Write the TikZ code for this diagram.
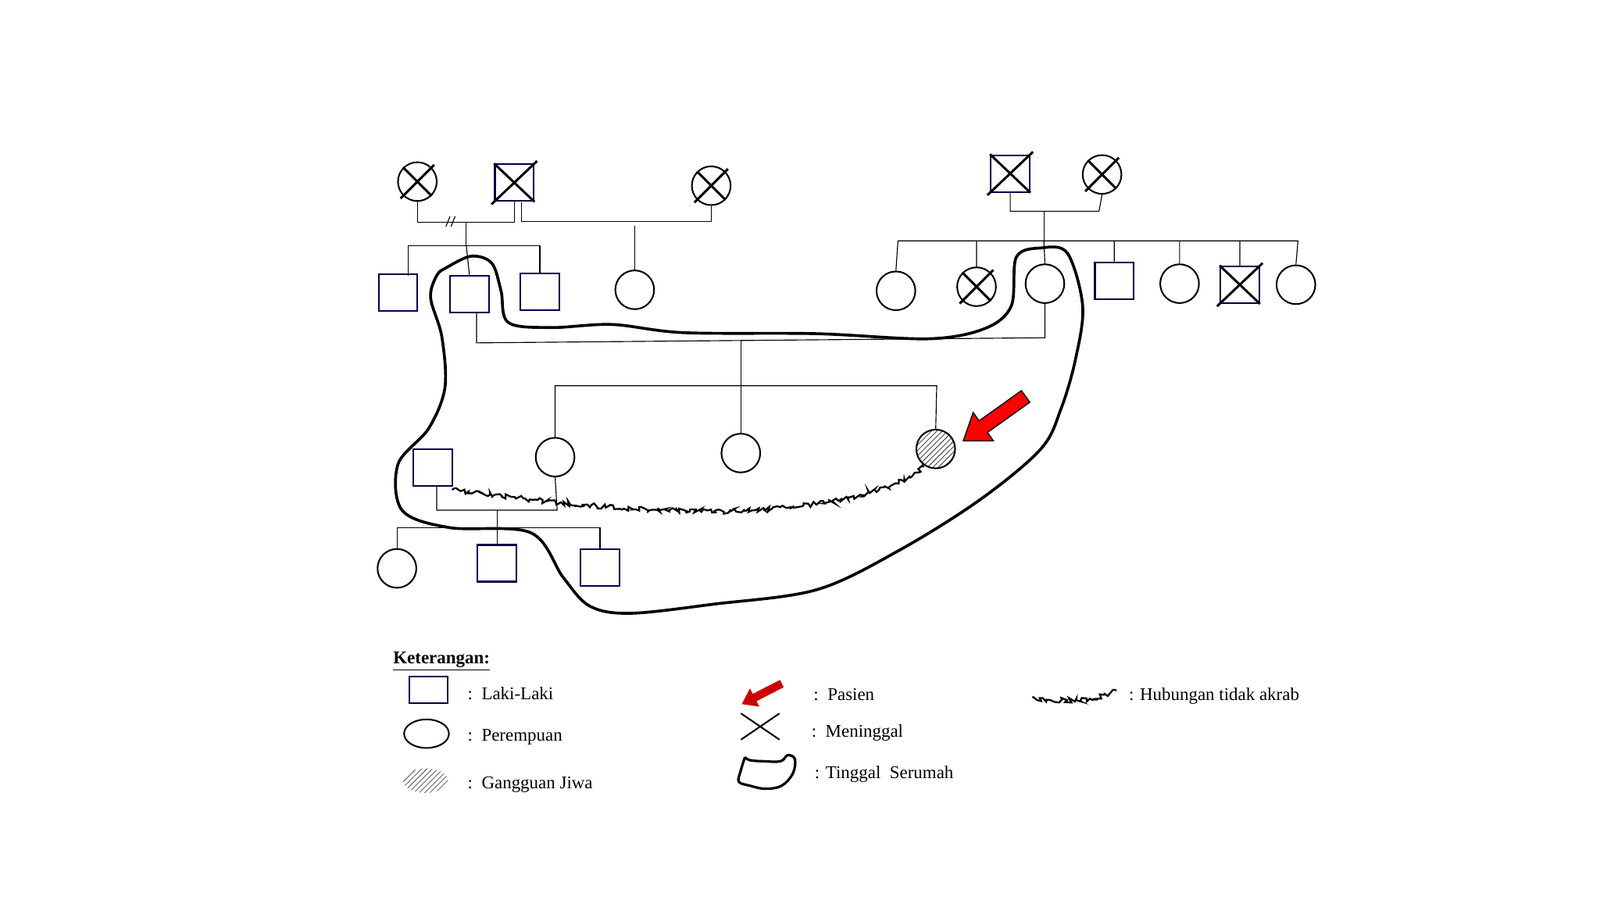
\documentclass[tikz,border=0pt]{standalone}
\usepackage{fontspec}
\setmainfont{Liberation Serif}
\usetikzlibrary{patterns,decorations.pathmorphing,shapes.geometric}
\begin{document}
\begin{tikzpicture}[x=0.02cm,y=-0.02cm,
 m/.style={draw=blue!30!black,line width=0.9pt,minimum width=0.76cm,minimum height=0.72cm,inner sep=0},
 f/.style={draw,circle,line width=0.9pt,minimum size=0.76cm,inner sep=0},
 ln/.style={line width=0.5pt},
 hx/.style={line width=1.3pt,shorten <=-2pt,shorten >=-2pt},
 zz/.style={line width=1pt,decorate,decoration={random steps,segment length=1.2pt,amplitude=1.4pt}},
 lab/.style={anchor=west,font=\fontsize{10}{12}\selectfont,inner sep=0}]
\newcommand\deadX[1]{\draw[hx] (#1.north west)--(#1.south east) (#1.north east)--(#1.south west);}
\useasboundingbox (0,0) rectangle (1568,882);
% generation 1
\node[f] (a1) at (409,178) {}; \deadX{a1}
\node[m] (a2) at (504,179) {}; \deadX{a2}
\node[f] (a3) at (697,182) {}; \deadX{a3}
\node[m] (b1) at (990,170) {}; \deadX{b1}
\node[f] (b2) at (1080,171) {}; \deadX{b2}
% generation 2 left
\node[m] (c1) at (390,287) {};
\node[m] (c2) at (460,288) {};
\node[m] (c3) at (529,286) {};
\node[f] (c4) at (622,284) {};
% generation 2 right
\node[f] (d1) at (878,285) {};
\node[f] (d2) at (957,281) {}; \deadX{d2}
\node[f] (d3) at (1024,278) {};
\node[m] (d4) at (1092,275) {};
\node[f] (d5) at (1156,278) {};
\node[m] (d6) at (1215,279) {}; \deadX{d6}
\node[f] (d7) at (1270,279) {};
% generation 3
\node[m] (e0) at (424,458) {};
\node[f] (e1) at (544,448) {};
\node[f] (e2) at (726,444) {};
\node[f,pattern=north east lines,pattern color=black!70] (e3) at (917,440) {};
% generation 4
\node[f] (g1) at (389,557) {};
\node[m] (g2) at (487,552) {};
\node[m] (g3) at (588,556) {};
% lines gen1
\draw[ln] (a1.south) -- (409,218) -- (504,218) -- (a2.south);
\draw[ln] (437,222)--(441,212) (442,222)--(446,212);
\draw[ln] (511,198) -- (511,217) -- (697,217) -- (a3.south);
\draw[ln] (622,221) -- (c4.north);
\draw[ln] (457,218) -- (457,241);
\draw[ln] (400,270) -- (400,241) -- (529,241) -- (c3.north);
\draw[ln] (457,241) -- (c2.north);
\draw[ln] (b1.south) -- (990,207) -- (1077,207) -- (b2.south);
\draw[ln] (1023,207) -- (1023,236);
\draw[ln] (d1.north) -- (880,236) -- (1272,236) -- (d7.north);
\draw[ln] (957,236)--(d2.north) (1023,236)--(d3.north) (1092,236)--(d4.north) (1156,236)--(d5.north) (1215,236)--(d6.north);
% marriage gen2
\draw[ln] (467,306) -- (467,336) -- (1024,331) -- (d3.south);
\draw[ln] (726,334) -- (726,378);
\draw[ln] (e1.north) -- (544,378) -- (918,378) -- (e3.north);
\draw[ln] (726,378) -- (e2.north);
% marriage gen3
\draw[ln] (428,477) -- (428,500) -- (546,500) -- (e1.south);
\draw[ln] (487,500) -- (487,517);
\draw[ln] (g1.north) -- (389,517) -- (588,517) -- (g3.north);
\draw[ln] (487,517) -- (g2.north);
% conflict line
\draw[zz] (443,480) .. controls (520,490) and (640,505) .. (740,500) .. controls (820,495) and (880,480) .. (905,458);
% household
\draw[line width=1.6pt] plot[smooth cycle,tension=0.55] coordinates {(438,262) (462,251) (482,258) (491,285) (498,316) (540,321) (600,318) (670,326) (800,327) (910,332) (965,322) (991,300) (996,252) (1020,243) (1046,248) (1061,300) (1054,352) (1040,400) (1020,440) (960,490) (880,540) (800,578) (700,592) (618,601) (578,594) (552,566) (520,522) (440,517) (394,500) (390,455) (420,420) (436,380) (433,330) (422,292) (428,270)};
% red arrow
\draw[fill=red,line width=0.6pt] (944,432) -- (973.5,432) -- (967.7,423.8) -- (1009.2,394.2) -- (1001,382.8) -- (959.5,412.4) -- (953.7,404.2) -- cycle;
% legend
\node[lab,font=\fontsize{10}{12}\selectfont\bfseries] (k) at (385,648) {\underline{Keterangan:}};
\node[draw=blue!30!black,line width=0.9pt,minimum width=0.76cm,minimum height=0.52cm,inner sep=0] (l1) at (420,676) {};
\node[lab] (t1) at (458,680) {:\ \ Laki-Laki};
\node[draw,ellipse,line width=0.9pt,minimum width=0.88cm,minimum height=0.56cm,inner sep=0] (l2) at (418,719) {};
\node[lab] (t2) at (458,722) {:\ \ Perempuan};
\node[ellipse,pattern=north east lines,pattern color=black!60,minimum width=0.88cm,minimum height=0.48cm,inner sep=0] (l3) at (417,765) {};
\node[lab] (t3) at (458,769) {:\ \ Gangguan Jiwa};
\draw[fill=red!80!black,draw=none] (727,690) -- (744.1,692.5) -- (741.3,687.2) -- (768,673.5) -- (764.4,666.3) -- (737.7,680) -- (734.9,674.7) -- cycle;
\node[lab] (t4) at (797,681) {:\ \ Pasien};
\node[inner sep=0,minimum width=0.74cm,minimum height=0.5cm] (l5) at (745,712) {};
\draw[line width=0.9pt] (l5.north west)--(l5.south east) (l5.north east)--(l5.south west);
\node[lab] (t5) at (795,718) {:\ \ Meninggal};
\draw[line width=1.4pt] plot[smooth,tension=0.6] coordinates {(730,742) (726,755) (724,766) (735,770) (750,773) (766,770) (777,758) (779,744) (772,740) (765,746) (748,746) (735,745) (730,742)};
\node[lab] (t6) at (798,759) {: Tinggal\ \ Serumah};
\draw[zz] (1012,684) .. controls (1040,688) and (1070,688) .. (1094,677);
\node[lab] (t7) at (1106,682) {: Hubungan tidak akrab};
\end{tikzpicture}
\end{document}
